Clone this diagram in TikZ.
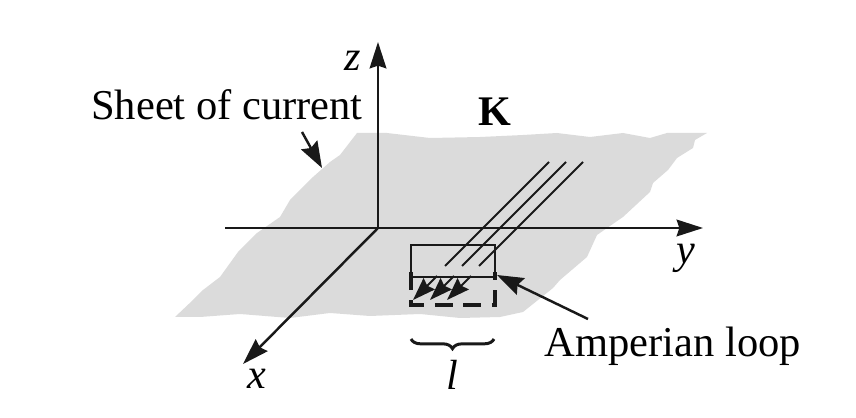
\documentclass[tikz,border=0pt]{standalone}
\usepackage{fontspec}
\usepackage{amsmath}
\setmainfont{Liberation Serif}
\usetikzlibrary{arrows.meta,decorations.pathreplacing}
\tikzset{
    axisline/.style={black!90, line width=1.4pt, -{Stealth[length=15pt,width=9.5pt,inset=1.5pt]}},
    leader/.style={black!90, line width=1.4pt, -{Stealth[length=15pt,width=10.5pt,inset=2pt]}},
    wire/.style={black!90, line width=1.1pt},
    currentarrow/.style={black!90, line width=1.1pt, -{Stealth[length=13pt,width=9pt,inset=1.5pt]}},
    looplabel/.style={font=\fontsize{24.2}{28}\selectfont, inner sep=0pt},
    axislabel/.style={font=\fontsize{24}{28}\selectfont\itshape, inner sep=0pt}
}
\begin{document}
\begin{tikzpicture}[x=0.02cm,y=-0.02cm]
        \useasboundingbox (0,0) rectangle (856,418);

        % Draw sheet
        \fill[black!14] (175,317) -- (193,300) -- (203,290) -- (220,277) -- (238,252) -- (257,233)
            -- (280,217) -- (290,200) -- (313,177) -- (330,162) -- (340,155) -- (357,133)
            -- (387,133) -- (430,138) -- (480,137) -- (523,135) -- (557,133) -- (590,137)
            -- (623,133) -- (650,138) -- (667,133) -- (707,133) -- (695,140) -- (693,148)
            -- (677,158) -- (668,170) -- (653,183) -- (650,192) -- (623,217) -- (597,235)
            -- (587,257) -- (560,280) -- (553,288) -- (523,312) -- (500,317) -- (460,318)
            -- (420,314) -- (370,316) -- (330,313) -- (290,318) -- (240,314) -- (200,317) -- cycle;

        % Draw axes
        \coordinate (origin) at (378,228);
        \coordinate (zend) at (378,42);
        \coordinate (ystart) at (225,228);
        \coordinate (yend) at (703,228);
        \coordinate (xend) at (243,364);
        \draw[axisline] (origin) -- (zend);
        \draw[axisline] (ystart) -- (yend);
        \draw[axisline] (origin) -- (xend);
        \node[axislabel] (zlabel) at (353,61) {z};
        \node[axislabel] (ylabel) at (686,258) {y};
        \node[axislabel] (xlabel) at (257,379) {x};

        % Draw current lines
        \foreach \i/\a/\b in {1/445/549, 2/462/566, 3/479/583} {
            \coordinate (wirelow\i) at (\a,266);
            \coordinate (wirehigh\i) at (\b,162);
            \draw[wire] (wirelow\i) -- (wirehigh\i);
        }
        \foreach \i/\a/\b in {1/437/413, 2/454/430, 3/471/447} {
            \coordinate (arrowtop\i) at (\a,276);
            \coordinate (arrowtip\i) at (\b,300);
            \draw[currentarrow] (arrowtop\i) -- (arrowtip\i);
        }

        % Draw loop
        \draw[black!90, line width=1.4pt] (411,245) rectangle (495,277);
        \draw[black!90, line width=2pt, dash pattern=on 10.2pt off 6pt] (411,272) -- (411,305) -- (495,305) -- (495,272);

        % Draw labels
        \node[looplabel] (sheet) at (227,105) {Sheet of current};
        \node[looplabel, font=\fontsize{24}{28}\selectfont\bfseries] (current) at (495,112) {K};
        \node[looplabel] (amperian) at (673,346) {Amperian loop};
        \node[axislabel] (length) at (452,375) {l};

        % Draw leaders
        \coordinate (sheetfrom) at (302,132);
        \coordinate (sheetto) at (322,168);
        \coordinate (loopfrom) at (588,319);
        \coordinate (loopto) at (497,275);
        \draw[leader] (sheetfrom) -- (sheetto);
        \draw[leader] (loopfrom) -- (loopto);

        % Draw brace
        \coordinate (braceleft) at (411,339);
        \coordinate (braceright) at (494,339);
        \draw[black!90, line width=1.7pt, decorate, decoration={brace, amplitude=5.5pt}] (braceright) -- (braceleft);

    \end{tikzpicture}
\end{document}
